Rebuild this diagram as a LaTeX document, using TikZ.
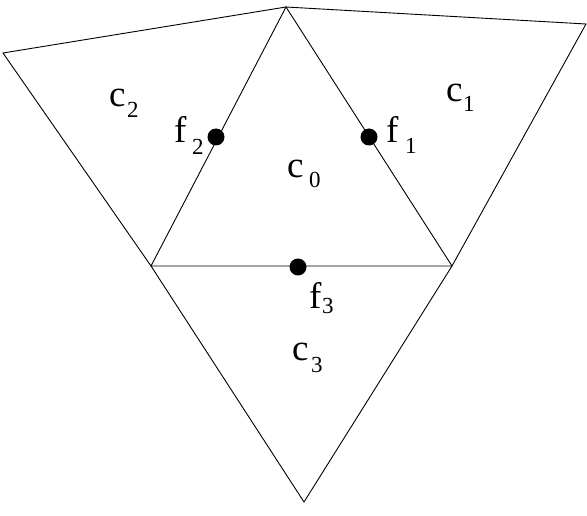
\documentclass[tikz,border=0pt]{standalone}
\usepackage{fontspec}
\setmainfont{Liberation Serif}
\begin{document}
\begin{tikzpicture}[x=1pt,y=-1pt,
  edge/.style={line width=0.9pt, line join=miter},
  dot/.style={circle, fill=black, inner sep=0pt, minimum size=17pt},
  letter/.style={anchor=base west, inner sep=0pt, font=\fontsize{37}{37}\selectfont},
  digit/.style={anchor=base west, inner sep=0pt, font=\fontsize{23}{23}\selectfont}]
\useasboundingbox (0,0) rectangle (587,516);
\coordinate (T) at (286,7);
\coordinate (L) at (3,53);
\coordinate (R) at (586,24);
\coordinate (ML) at (151,266);
\coordinate (MR) at (452,266);
\coordinate (B) at (304,502);
\draw[edge] (ML) -- (L) -- (T) -- (R) -- (MR);
\draw[edge] (ML) -- (T) -- (MR);
\draw[edge] (ML) -- (MR) -- (B) -- cycle;
\node[dot] (f2dot) at (216,137) {};
\node[dot] (f1dot) at (369,137) {};
\node[dot] (f3dot) at (298,267) {};
\node[letter] (c2l) at (109,107) {c};
\node[digit] (c2d) at (127,118) {2};
\node[letter] (c1l) at (446,102) {c};
\node[digit] (c1d) at (463,112) {1};
\node[letter] (c0l) at (287,178) {c};
\node[digit] (c0d) at (309,188) {0};
\node[letter] (f2l) at (174,143) {f};
\node[digit] (f2d) at (192,155) {2};
\node[letter] (f1l) at (386,143) {f};
\node[digit] (f1d) at (405,154) {1};
\node[letter] (f3l) at (309,308) {f};
\node[digit] (f3d) at (322,313) {3};
\node[letter] (c3l) at (292,360) {c};
\node[digit] (c3d) at (311,372) {3};
\end{tikzpicture}
\end{document}
